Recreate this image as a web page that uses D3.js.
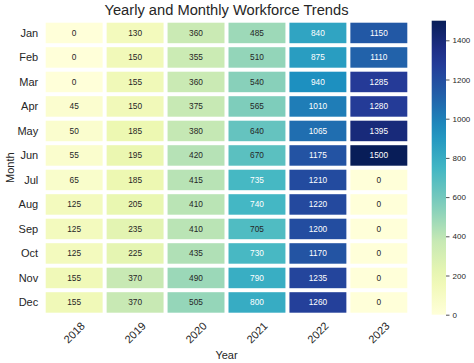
<!DOCTYPE html>
<html>
<head>
<meta charset="utf-8">
<script src="https://cdn.jsdelivr.net/npm/d3@7"></script>
<style>
  body { margin: 0; background: #fff; }
  svg { display: block; font-family: "Liberation Sans", Arial, sans-serif; }
</style>
</head>
<body>
<div id="chart"><svg></svg></div>
<script>
const months = ["Jan","Feb","Mar","Apr","May","Jun","Jul","Aug","Sep","Oct","Nov","Dec"];
const years = ["2018","2019","2020","2021","2022","2023"];

const v2018 = [0, 0, 0, 45, 50, 55, 65, 125, 125, 125, 155, 155];
const v2019 = [130, 150, 155, 150, 185, 195, 185, 205, 235, 225, 370, 370];
const v2020 = [360, 355, 360, 375, 380, 420, 415, 410, 410, 435, 490, 505];
const v2021 = [485, 510, 540, 565, 640, 670, 735, 740, 705, 730, 790, 800];
const v2022 = [840, 875, 940, 1010, 1065, 1175, 1210, 1220, 1200, 1170, 1235, 1260];
const v2023 = [1150, 1110, 1285, 1280, 1395, 1500, 0, 0, 0, 0, 0, 0];

const cbTicks = [0, 200, 400, 600, 800, 1000, 1200, 1400];

const series = [v2018, v2019, v2020, v2021, v2022, v2023];

let cells = [];
years.forEach((yr, i) => {
	months.forEach((m, j) => cells.push({year: yr, month: m, value: series[i][j]}));
});

const w = 474, h = 363;
const plotL = 43.7, plotR = 409.3, plotT = 20.7, plotB = 314.7;
const gap = 4;
const textDark = "#262626";

// matplotlib YlGnBu (linear segments between the 9 brewer colours)
const ylgnbu = ["#ffffd9","#edf8b1","#c7e9b4","#7fcdbb","#41b6c4","#1d91c0","#225ea8","#253494","#081d58"];
const color = d3.scaleSequential(d3.piecewise(d3.interpolateRgb, ylgnbu)).domain([0, 1500]);

function luminance(c){
	let rgb = d3.rgb(c);
	let f = v => { v = v/255; return v <= 0.03928 ? v/12.92 : Math.pow((v+0.055)/1.055, 2.4); };
	return 0.2126*f(rgb.r) + 0.7152*f(rgb.g) + 0.0722*f(rgb.b);
}

let svg = d3.select("#chart").select("svg")
			.attr("width", w)
			.attr("height", h);

let x = d3.scaleBand().domain(years).range([plotL, plotR]);
let y = d3.scaleBand().domain(months).range([plotT, plotB]);

// cells
let g = svg.append("g");
g.selectAll("rect")
	.data(cells)
	.enter()
	.append("rect")
	.attr("x", d => x(d.year) + gap/2)
	.attr("y", d => y(d.month) + gap/2)
	.attr("width", x.bandwidth() - gap)
	.attr("height", y.bandwidth() - gap)
	.attr("fill", d => color(d.value));

g.selectAll("text")
	.data(cells)
	.enter()
	.append("text")
	.attr("x", d => x(d.year) + x.bandwidth()/2)
	.attr("y", d => y(d.month) + y.bandwidth()/2)
	.attr("text-anchor", "middle")
	.attr("dominant-baseline", "central")
	.attr("font-size", "8.3px")
	.attr("fill", d => luminance(color(d.value)) > 0.408 ? textDark : "#fff")
	.text(d => d.value);

// month labels
svg.append("g").selectAll("text")
	.data(months)
	.enter()
	.append("text")
	.attr("x", plotL - 5.5)
	.attr("y", d => y(d) + y.bandwidth()/2)
	.attr("text-anchor", "end")
	.attr("dominant-baseline", "central")
	.attr("font-size", "11px")
	.attr("fill", textDark)
	.text(d => d);

// year labels, rotated 45
svg.append("g").selectAll("text")
	.data(years)
	.enter()
	.append("text")
	.attr("transform", d => `translate(${x(d) + x.bandwidth()/2},332.5) rotate(-45)`)
	.attr("text-anchor", "middle")
	.attr("dominant-baseline", "central")
	.attr("font-size", "11px")
	.attr("fill", textDark)
	.text(d => d);

// axis titles
svg.append("text")
	.attr("x", (plotL+plotR)/2)
	.attr("y", 359)
	.attr("text-anchor", "middle")
	.attr("font-size", "11px")
	.attr("fill", textDark)
	.text("Year");

svg.append("text")
	.attr("transform", `translate(14,${(plotT+plotB)/2}) rotate(-90)`)
	.attr("text-anchor", "middle")
	.attr("font-size", "11px")
	.attr("fill", textDark)
	.text("Month");

svg.append("text")
	.attr("x", (plotL+plotR)/2)
	.attr("y", 15)
	.attr("text-anchor", "middle")
	.attr("font-size", "14.7px")
	.attr("fill", textDark)
	.text("Yearly and Monthly Workforce Trends");

// colorbar
const cbX = 431.7, cbW = 14.3;
let cy = d3.scaleLinear().domain([0, 1500]).range([plotB, plotT]);

let defs = svg.append("defs");
let grad = defs.append("linearGradient")
	.attr("id", "cbgrad")
	.attr("x1", 0).attr("y1", 1).attr("x2", 0).attr("y2", 0);
grad.selectAll("stop")
	.data(d3.range(0, 1.0001, 0.05))
	.enter()
	.append("stop")
	.attr("offset", d => d)
	.attr("stop-color", d => color(d*1500));

svg.append("rect")
	.attr("x", cbX)
	.attr("y", plotT)
	.attr("width", cbW)
	.attr("height", plotB - plotT)
	.attr("fill", "url(#cbgrad)");

let cbAxis = svg.append("g")
	.attr("transform", `translate(${cbX + cbW},0)`)
	.call(d3.axisRight(cy).tickValues(cbTicks).tickFormat(d3.format("d")).tickSize(3.5).tickPadding(3));
cbAxis.select(".domain").remove();
cbAxis.selectAll("line").attr("stroke", textDark).attr("stroke-width", 0.8);
cbAxis.selectAll("text")
	.attr("font-family", "Liberation Sans, Arial, sans-serif")
	.attr("font-size", "8px")
	.attr("fill", textDark);
</script>
</body>
</html>
